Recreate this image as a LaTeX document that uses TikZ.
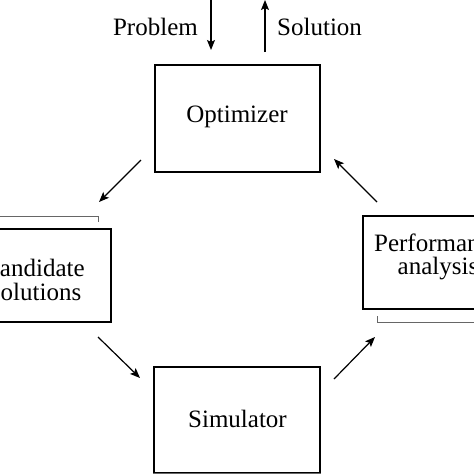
\documentclass[tikz,border=0pt]{standalone}
\usepackage{fontspec}
\setmainfont{Liberation Serif}
\usetikzlibrary{arrows.meta}
\begin{document}
\begin{tikzpicture}[x=1pt,y=-1pt,
  block/.style={draw=black,line width=1.4pt,inner sep=0pt},
  blocktext/.style={align=center,inner sep=0pt,
    font=\fontsize{25}{23.5}\selectfont},
  flow/.style={line width=1.2pt,-{Stealth[length=10pt,width=8pt,inset=2pt]}},
  backedge/.style={draw=black!60,line width=1pt},
  caption/.style={font=\fontsize{25}{29}\selectfont,inner sep=0pt}]
\useasboundingbox (0,0) rectangle (474,474);
\clip (0,0) rectangle (474,474);
\fill[white] (0,0) rectangle (474,474);

% edges of the stacked sheets behind the two side boxes
\draw[backedge] (-2,216) -- (98,216) -- (98,222);
\draw[backedge] (377,316) -- (377,322) -- (476,322);

% the four stages
\node[block,minimum width=165pt,minimum height=107pt] (opt) at (237.5,118.5) {};
\node[blocktext] (optt) at (237,117) {Optimizer};
\node[block,minimum width=154pt,minimum height=93pt] (cand) at (34,275.5) {};
\node[blocktext] (candt) at (34,280) {Candidate\\Solutions};
\node[block,minimum width=137pt,minimum height=93pt] (perf) at (431.5,262.5) {};
\node[blocktext] (perft) at (438,257) {Performance\\analysis};
\node[block,minimum width=166pt,minimum height=106pt] (sim) at (237,420) {};
\node[blocktext] (simt) at (237.5,419) {Simulator};
\draw[draw=black!60,line width=1.4pt] (sim.south west) -- (sim.south east);

% arrow end points around the loop
\coordinate (oc1) at (141,160); \coordinate (oc2) at (99,202);
\coordinate (cs1) at (98,337);  \coordinate (cs2) at (140,378);
\coordinate (sp1) at (334,379); \coordinate (sp2) at (375,337);
\coordinate (po1) at (377,202); \coordinate (po2) at (334,159);
\coordinate (pin1) at (211,0);  \coordinate (pin2) at (211,50);
\coordinate (sout1) at (265,52); \coordinate (sout2) at (265,0);

\draw[flow] (oc1) -- (oc2);
\draw[flow] (cs1) -- (cs2);
\draw[flow] (sp1) -- (sp2);
\draw[flow] (po1) -- (po2);
\draw[flow] (pin1) -- (pin2);
\draw[flow] (sout1) -- (sout2);

\node[caption,anchor=east] (prob) at (198,27) {Problem};
\node[caption,anchor=west] (sol) at (277,27) {Solution};
\end{tikzpicture}
\end{document}
